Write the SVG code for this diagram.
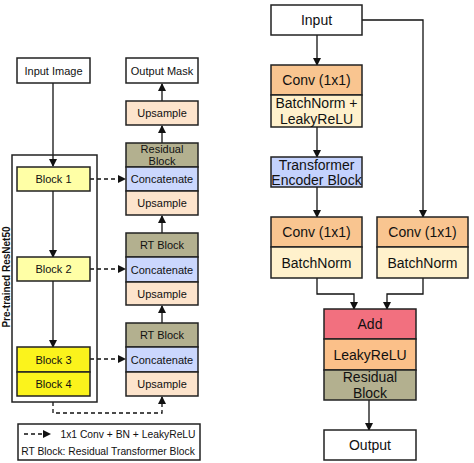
<svg xmlns="http://www.w3.org/2000/svg" width="474" height="463" viewBox="0 0 474 463">
<style>
rect{stroke:#222;stroke-width:1.5}
.w{fill:#fff}.y1{fill:#ffffa6}.y2{fill:#fbf31c}.up{fill:#fde4cc}.ol{fill:#b3b08f}.bl{fill:#cbd7fd}
.cv{fill:#f9c590}.bn{fill:#fff1cc}.tr{fill:#c4d2fd}.ad{fill:#f2707f}.lr{fill:#fbc089}
text{font-family:"Liberation Sans",Arial,sans-serif;fill:#111;text-anchor:middle}
.s{font-size:11px}.m{font-size:14px}.lg{font-size:10.3px}
.ln{stroke:#111;stroke-width:1.3;fill:none}
.d{stroke:#111;stroke-width:1.3;fill:none;stroke-dasharray:4 3}
</style>
<defs>
<marker id="a" markerWidth="8" markerHeight="8" refX="7" refY="4" orient="auto" markerUnits="userSpaceOnUse">
<path d="M0,0 L8,4 L0,8 Z" fill="#111"/>
</marker>
</defs>
<g id="connectors">
<line class="ln" x1="53" y1="83" x2="53" y2="166" marker-end="url(#a)"/>
<line class="ln" x1="53" y1="190" x2="53" y2="257" marker-end="url(#a)"/>
<line class="ln" x1="53" y1="281" x2="53" y2="347" marker-end="url(#a)"/>
<line class="d" x1="90" y1="179" x2="125" y2="179" marker-end="url(#a)"/>
<line class="d" x1="90" y1="269" x2="125" y2="269" marker-end="url(#a)"/>
<line class="d" x1="90" y1="359" x2="125" y2="359" marker-end="url(#a)"/>
<polyline class="d" points="53,402 53,413 162,413 162,397" marker-end="url(#a)"/>
<line class="ln" x1="162" y1="323" x2="162" y2="306" marker-end="url(#a)"/>
<line class="ln" x1="162" y1="233" x2="162" y2="216" marker-end="url(#a)"/>
<line class="ln" x1="162" y1="143" x2="162" y2="126" marker-end="url(#a)"/>
<line class="ln" x1="162" y1="101" x2="162" y2="84" marker-end="url(#a)"/>
<line class="ln" x1="317" y1="35" x2="317" y2="65" marker-end="url(#a)"/>
<polyline class="ln" points="362,20 423,20 423,217" marker-end="url(#a)"/>
<line class="ln" x1="317" y1="127" x2="317" y2="157" marker-end="url(#a)"/>
<line class="ln" x1="317" y1="187" x2="317" y2="217" marker-end="url(#a)"/>
<polyline class="ln" points="317,278 317,294 354,294 354,309" marker-end="url(#a)"/>
<polyline class="ln" points="423,278 423,294 387,294 387,309" marker-end="url(#a)"/>
<line class="ln" x1="369" y1="400" x2="369" y2="430" marker-end="url(#a)"/>
</g>
<g id="resnet">
<rect x="12" y="155" width="85" height="247" fill="none"/>
<text transform="translate(10,277) rotate(-90)" style="font-size:10px;font-weight:bold">Pre-trained ResNet50</text>
</g>
<g id="input-image"><rect class="w" x="17" y="58" width="73" height="25"/><text class="s" x="53.5" y="74.5">Input Image</text></g>
<g id="block1"><rect class="y1" x="17" y="167" width="73" height="24"/><text class="s" x="53.5" y="183">Block 1</text></g>
<g id="block2"><rect class="y1" x="17" y="257" width="73" height="24"/><text class="s" x="53.5" y="273">Block 2</text></g>
<g id="block34">
<rect class="y2" x="17" y="347" width="73" height="25"/><text class="s" x="53.5" y="363.5">Block 3</text>
<rect class="y2" x="17" y="372" width="73" height="24"/><text class="s" x="53.5" y="388">Block 4</text>
</g>
<g id="output-mask"><rect class="w" x="126" y="58" width="72" height="25"/><text class="s" x="162" y="74.5">Output Mask</text></g>
<g id="upsample-top"><rect class="up" x="126" y="101" width="72" height="24"/><text class="s" x="162" y="117">Upsample</text></g>
<g id="dec1">
<rect class="ol" x="126" y="143" width="72" height="24"/><text class="s" x="162" y="152.5">Residual</text><text class="s" x="162" y="165">Block</text>
<rect class="bl" x="126" y="167" width="72" height="24"/><text class="s" x="162" y="183">Concatenate</text>
<rect class="up" x="126" y="191" width="72" height="24"/><text class="s" x="162" y="207">Upsample</text>
</g>
<g id="dec2">
<rect class="ol" x="126" y="233" width="72" height="24"/><text class="s" x="162" y="249">RT Block</text>
<rect class="bl" x="126" y="257" width="72" height="25"/><text class="s" x="162" y="273.5">Concatenate</text>
<rect class="up" x="126" y="282" width="72" height="23"/><text class="s" x="162" y="297.5">Upsample</text>
</g>
<g id="dec3">
<rect class="ol" x="126" y="323" width="72" height="24"/><text class="s" x="162" y="339">RT Block</text>
<rect class="bl" x="126" y="347" width="72" height="25"/><text class="s" x="162" y="363.5">Concatenate</text>
<rect class="up" x="126" y="372" width="72" height="24"/><text class="s" x="162" y="388">Upsample</text>
</g>
<g id="legend">
<rect class="w" x="18" y="424" width="182" height="36"/>
<line class="d" x1="24" y1="434" x2="50" y2="434" marker-end="url(#a)"/>
<text class="lg" x="128" y="437.5">1x1 Conv + BN + LeakyReLU</text>
<text class="lg" x="108" y="455">RT Block: Residual Transformer Block</text>
</g>
<g id="input"><rect class="w" x="271" y="5" width="91" height="30"/><text class="m" x="316.5" y="25">Input</text></g>
<g id="conv-a">
<rect class="cv" x="271" y="65" width="91" height="30"/><text class="m" x="316.5" y="85">Conv (1x1)</text>
<rect class="bn" x="271" y="95" width="91" height="32"/><text class="m" x="316.5" y="108">BatchNorm +</text><text class="m" x="316.5" y="124">LeakyReLU</text>
</g>
<g id="transformer"><rect class="tr" x="271" y="157" width="91" height="30"/><text class="m" x="316.5" y="169.5">Transformer</text><text class="m" x="316.5" y="184.5">Encoder Block</text></g>
<g id="conv-b">
<rect class="cv" x="271" y="217" width="91" height="30"/><text class="m" x="316.5" y="237">Conv (1x1)</text>
<rect class="bn" x="271" y="247" width="91" height="31"/><text class="m" x="316.5" y="267.5">BatchNorm</text>
</g>
<g id="conv-c">
<rect class="cv" x="377" y="217" width="91" height="30"/><text class="m" x="422.5" y="237">Conv (1x1)</text>
<rect class="bn" x="377" y="247" width="91" height="31"/><text class="m" x="422.5" y="267.5">BatchNorm</text>
</g>
<g id="add">
<rect class="ad" x="324" y="309" width="92" height="30"/><text class="m" x="370" y="329">Add</text>
<rect class="lr" x="324" y="339" width="92" height="31"/><text class="m" x="370" y="359.5">LeakyReLU</text>
<rect class="ol" x="324" y="370" width="92" height="30"/><text class="m" x="370" y="382">Residual</text><text class="m" x="370" y="398">Block</text>
</g>
<g id="output"><rect class="w" x="324" y="430" width="92" height="30"/><text class="m" x="370" y="450">Output</text></g>
</svg>
